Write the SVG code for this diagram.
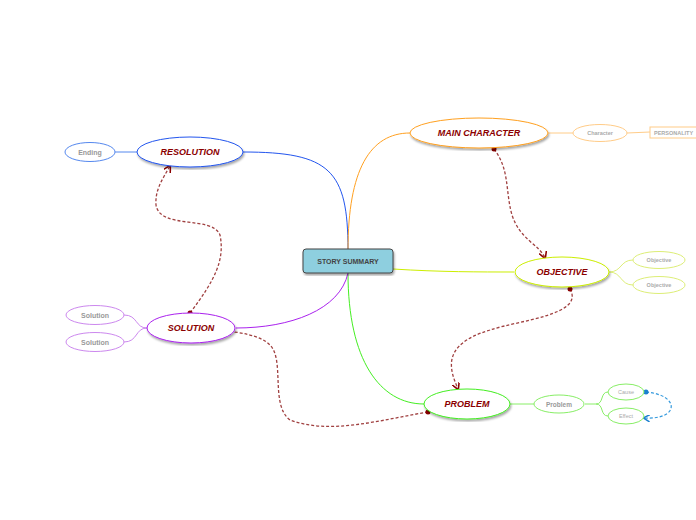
<svg xmlns="http://www.w3.org/2000/svg" width="696" height="520" viewBox="0 0 696 520">
<defs>
<style>
text{font-family:"Liberation Sans",Arial,sans-serif;font-weight:bold;text-anchor:middle}
.main{font-size:9px;font-style:italic;fill:#8b0000}
.sub{font-size:7px;fill:#999}
.tiny{font-size:5.5px;fill:#aaa}
.rel{fill:none;stroke:#a04040;stroke-width:1.3;stroke-dasharray:3,2}
</style>
<marker id="ah" viewBox="0 0 10 10" refX="8" refY="5" markerWidth="6" markerHeight="6" orient="auto"><path d="M0,0 L9,5 L0,10" fill="none" stroke="#8b0000" stroke-width="2"/></marker>
<marker id="ahb" viewBox="0 0 10 10" refX="8" refY="5" markerWidth="6" markerHeight="6" orient="auto"><path d="M0,0 L9,5 L0,10" fill="none" stroke="#1a7fd0" stroke-width="2"/></marker>
<filter id="sh"><feDropShadow dx="1" dy="2" stdDeviation="1" flood-opacity="0.35"/></filter>
</defs>
<g id="connectors" fill="none">
<path d="M348,250 C348,170 330,152 243,152" stroke="#2255ee"/>
<path d="M348,250 C348,170 370,133 410,133" stroke="#ffa020"/>
<path d="M393,269 C440,272 480,272 514,272" stroke="#ccee00"/>
<path d="M348,273 C348,360 380,404 424,404" stroke="#44ee22"/>
<path d="M348,273 C340,310 290,328 236,328" stroke="#aa22ee"/>
<path d="M115,152 L137,152" stroke="#5588ee"/>
<path d="M548,133 L573,133 M627,133 L650,132" stroke="#ffcc88"/>
<path d="M609,272 C622,272 620,260 633,260 M609,272 C622,272 620,285 633,285" stroke="#ddee77"/>
<path d="M510,404 L534,404 M585,404 L596,404 C604,404 600,392 608,392 M596,404 C604,404 600,416 608,416" stroke="#88ee66"/>
<path d="M124,315 C138,315 135,328 147,328 M124,342 C138,342 135,328 147,328" stroke="#cc88ee"/>
<path class="rel" d="M494,149 C510,170 505,190 512,215 C520,240 540,245 545,258" marker-end="url(#ah)"/>
<circle cx="494" cy="149" r="2.5" fill="#8b0000"/>
<path class="rel" d="M570,289 C585,315 520,320 490,330 C440,345 450,370 458,389" marker-end="url(#ah)"/>
<circle cx="570" cy="289" r="2.5" fill="#8b0000"/>
<path class="rel" d="M190,313 C215,280 225,260 220,235 C212,215 160,230 156,205 C155,190 162,180 170,166" marker-end="url(#ah)"/>
<circle cx="190" cy="313" r="2.5" fill="#8b0000"/>
<path class="rel" d="M428,412 C380,420 330,435 290,420 C270,405 285,360 270,345 C260,335 240,332 215,330" marker-end="url(#ah)"/>
<circle cx="428" cy="412" r="2.5" fill="#8b0000"/>
<path d="M646,392 C680,395 680,420 644,418" stroke="#3399dd" stroke-width="1.2" stroke-dasharray="3,2" marker-end="url(#ahb)"/>
<circle cx="646" cy="392" r="2.5" fill="#1a7fd0"/>
</g>
<g id="center"><rect x="303" y="249" width="90" height="24" rx="3" fill="#8ecfdf" stroke="#444" filter="url(#sh)"/><text x="348" y="264" style="font-size:7px;fill:#444">STORY SUMMARY</text></g>
<g id="resolution"><ellipse cx="190" cy="152" rx="53" ry="15" fill="#fff" stroke="#2255ee" filter="url(#sh)"/><text class="main" x="190" y="155">RESOLUTION</text></g>
<g id="main-character"><ellipse cx="479" cy="133" rx="69" ry="15" fill="#fff" stroke="#ffa020" filter="url(#sh)"/><text class="main" x="479" y="136">MAIN CHARACTER</text></g>
<g id="objective"><ellipse cx="562" cy="272" rx="47" ry="15" fill="#fff" stroke="#ccee00" filter="url(#sh)"/><text class="main" x="562" y="275">OBJECTIVE</text></g>
<g id="problem"><ellipse cx="467" cy="404" rx="43" ry="15" fill="#fff" stroke="#44ee22" filter="url(#sh)"/><text class="main" x="467" y="407">PROBLEM</text></g>
<g id="solution-main"><ellipse cx="191" cy="328" rx="44" ry="15" fill="#fff" stroke="#aa22ee" filter="url(#sh)"/><text class="main" x="191" y="331">SOLUTION</text></g>
<g id="ending"><ellipse cx="90" cy="152" rx="25" ry="9.5" fill="#fff" stroke="#5588ee"/><text class="sub" x="90" y="155">Ending</text></g>
<g id="character"><ellipse cx="600" cy="133" rx="27" ry="8.5" fill="#fff" stroke="#ffcc88"/><text class="tiny" x="600" y="135">Character</text></g>
<g id="personality"><rect x="650" y="127" width="60" height="11" fill="#fff" stroke="#ffcc88"/><text class="tiny" x="654" y="134.5" style="text-anchor:start">PERSONALITY</text></g>
<g id="objective1"><ellipse cx="659" cy="260" rx="26" ry="8.5" fill="#fff" stroke="#ddee77"/><text class="tiny" x="659" y="262">Objective</text></g>
<g id="objective2"><ellipse cx="659" cy="285" rx="26" ry="8.5" fill="#fff" stroke="#ddee77"/><text class="tiny" x="659" y="287">Objective</text></g>
<g id="problem-sub"><ellipse cx="559" cy="404" rx="25" ry="9" fill="#fff" stroke="#88ee66"/><text class="sub" x="559" y="406.5" style="font-size:6.5px">Problem</text></g>
<g id="cause"><ellipse cx="626" cy="392" rx="18" ry="8" fill="#fff" stroke="#88ee66"/><text class="tiny" x="626" y="394" style="font-weight:normal">Cause</text></g>
<g id="effect"><ellipse cx="626" cy="416" rx="18" ry="8" fill="#fff" stroke="#88ee66"/><text class="tiny" x="626" y="418" style="font-weight:normal">Effect</text></g>
<g id="solution1"><ellipse cx="95" cy="315" rx="29" ry="9.5" fill="#fff" stroke="#cc88ee"/><text class="sub" x="95" y="318">Solution</text></g>
<g id="solution2"><ellipse cx="95" cy="342" rx="29" ry="9.5" fill="#fff" stroke="#cc88ee"/><text class="sub" x="95" y="345">Solution</text></g>
</svg>
